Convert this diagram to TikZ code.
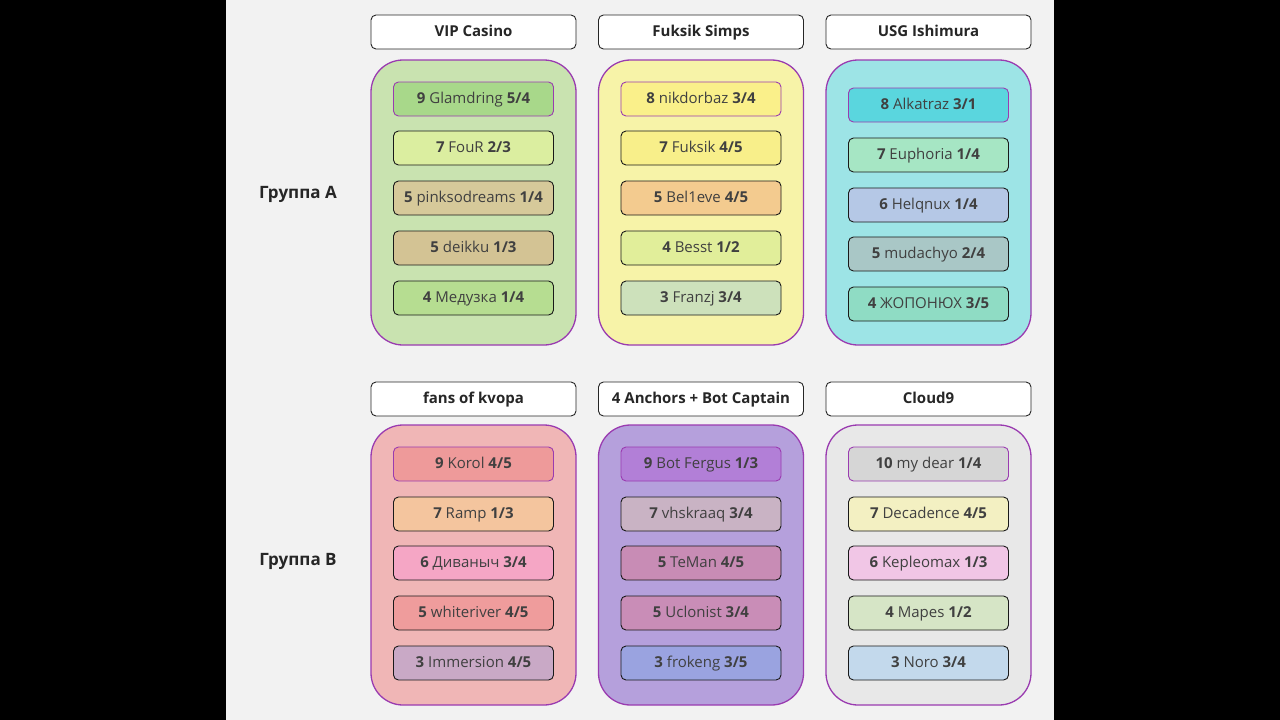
\documentclass[tikz,border=0pt]{standalone}
\usepackage{fontspec}
\setmainfont{Open Sans}
\begin{document}
\begin{tikzpicture}[x=1pt,y=-1pt,
  hdr/.style={draw=black!85,line width=0.9pt,fill=white,rounded corners=5pt,minimum width=205pt,minimum height=34pt,text height=11pt,text depth=3pt,font=\fontsize{15}{17}\selectfont\bfseries,text=black!85},
  grp/.style={draw=pcol,line width=1.3pt,rounded corners=32pt,minimum width=205pt},
  itm/.style={draw=black!90,line width=0.9pt,rounded corners=5pt,minimum width=160pt,minimum height=34pt,text height=11pt,text depth=3pt,font=\fontsize{15}{17}\selectfont,text=black!75},
  fst/.style={draw=pcol},
  lbl/.style={font=\fontsize{17}{19}\selectfont\bfseries,text=black!85}]
\definecolor{pcol}{HTML}{9A3BB0}
\fill[black] (0,0) rectangle (1280,720);
\fill[black!5] (226,0) rectangle (1054,720);
\useasboundingbox (0,0) rectangle (1280,720);
\definecolor{gA}{HTML}{C9E3B0}\definecolor{gB}{HTML}{F7F3A8}\definecolor{gC}{HTML}{9DE4E6}
\definecolor{gD}{HTML}{F0B6B6}\definecolor{gE}{HTML}{B5A0DC}\definecolor{gF}{HTML}{E8E8E8}
\node[lbl] (la) at (298,194) {Группа A};
\node[lbl] (lb) at (298,561) {Группа B};
\node[hdr] (h1) at (473.5,32) {VIP Casino};
\node[hdr] (h2) at (701,32) {Fuksik Simps};
\node[hdr] (h3) at (928.5,32) {USG Ishimura};
\node[hdr] (h4) at (473.5,399) {fans of kvopa};
\node[hdr] (h5) at (701,399) {4 Anchors + Bot Captain};
\node[hdr] (h6) at (928.5,399) {Cloud9};
\node[grp,fill=gA,minimum height=285pt] (g1) at (473.5,202.5) {};
\node[grp,fill=gB,minimum height=285pt] (g2) at (701,202.5) {};
\node[grp,fill=gC,minimum height=285pt] (g3) at (928.5,202.5) {};
\node[grp,fill=gD,minimum height=280pt] (g4) at (473.5,565) {};
\node[grp,fill=gE,minimum height=280pt] (g5) at (701,565) {};
\node[grp,fill=gF,minimum height=280pt] (g6) at (928.5,565) {};
\newcommand\pl[7]{\definecolor{tmpc}{HTML}{#4}\node[itm,fill=tmpc,#5] (#6) at #7 {\textbf{#1} #2 \textbf{#3}};}
\pl{9}{Glamdring}{5/4}{A8D88A}{fst}{a1}{(473.5,99)}
\pl{7}{FouR}{2/3}{DBEEA0}{}{a2}{(473.5,148)}
\pl{5}{pinksodreams}{1/4}{D6C99A}{}{a3}{(473.5,198)}
\pl{5}{deikku}{1/3}{D3C394}{}{a4}{(473.5,248)}
\pl{4}{Медузка}{1/4}{B6DD91}{}{a5}{(473.5,298)}
\pl{8}{nikdorbaz}{3/4}{FAF08A}{fst}{b1}{(701,99)}
\pl{7}{Fuksik}{4/5}{F8EF8A}{}{b2}{(701,148)}
\pl{5}{Bel1eve}{4/5}{F3CB8F}{}{b3}{(701,198)}
\pl{4}{Besst}{1/2}{E1EE9A}{}{b4}{(701,248)}
\pl{3}{Franzj}{3/4}{CDE1BB}{}{b5}{(701,298)}
\pl{8}{Alkatraz}{3/1}{5AD6DE}{fst}{c1}{(928.5,105)}
\pl{7}{Euphoria}{1/4}{A6E6C4}{}{c2}{(928.5,155)}
\pl{6}{Helqnux}{1/4}{B5C8E6}{}{c3}{(928.5,205)}
\pl{5}{mudachyo}{2/4}{A9C7C6}{}{c4}{(928.5,254)}
\pl{4}{ЖОПОНЮХ}{3/5}{8FDCC4}{}{c5}{(928.5,304)}
\pl{9}{Korol}{4/5}{EE9A9A}{fst}{d1}{(473.5,464)}
\pl{7}{Ramp}{1/3}{F4C59E}{}{d2}{(473.5,514)}
\pl{6}{Диваныч}{3/4}{F5A6C5}{}{d3}{(473.5,563)}
\pl{5}{whiteriver}{4/5}{EF9C9C}{}{d4}{(473.5,613)}
\pl{3}{Immersion}{4/5}{C9A9C6}{}{d5}{(473.5,663)}
\pl{9}{Bot Fergus}{1/3}{B27FD7}{fst}{e1}{(701,464)}
\pl{7}{vhskraaq}{3/4}{C9B3C4}{}{e2}{(701,514)}
\pl{5}{TeMan}{4/5}{C88CB5}{}{e3}{(701,563)}
\pl{5}{Uclonist}{3/4}{C98DB7}{}{e4}{(701,613)}
\pl{3}{frokeng}{3/5}{9AA3E0}{}{e5}{(701,663)}
\pl{10}{my dear}{1/4}{D6D6D6}{fst}{f1}{(928.5,464)}
\pl{7}{Decadence}{4/5}{F3F0C2}{}{f2}{(928.5,514)}
\pl{6}{Kepleomax}{1/3}{F1C6E6}{}{f3}{(928.5,563)}
\pl{4}{Mapes}{1/2}{D6E5C6}{}{f4}{(928.5,613)}
\pl{3}{Noro}{3/4}{C3D9EC}{}{f5}{(928.5,663)}
\end{tikzpicture}
\end{document}
